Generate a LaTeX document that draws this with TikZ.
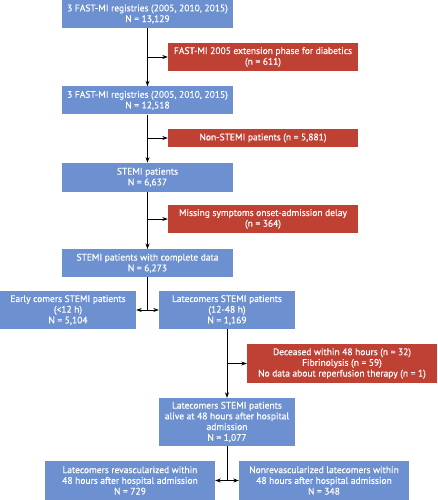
\documentclass[tikz,border=0pt]{standalone}
\usepackage{fontspec}
\setmainfont{PT Sans}
\newfontfamily\boxfont[FakeBold=0.5]{PT Sans}
\usepackage{tikz}
\usetikzlibrary{arrows.meta,positioning,calc}
\definecolor{boxblue}{RGB}{108,144,208}
\definecolor{boxred}{RGB}{190,65,52}

\begin{document}
\begin{tikzpicture}[
    x=1pt, y=-1pt,
    % --- STYLES ---
    stage/.style={
        rectangle, fill=boxblue,
        text=white, font=\boxfont\fontsize{9.5}{10.7}\selectfont,
        align=center, inner sep=2pt,
        minimum width=171pt, minimum height=28pt
    },
    excluded/.style={
        rectangle, fill=boxred,
        text=white, font=\boxfont\fontsize{9.5}{10.7}\selectfont,
        align=center, inner sep=2pt,
        minimum width=190pt, minimum height=28pt
    },
    flow/.style={-{Stealth[length=5.5pt,width=4pt]}, line width=0.7pt, black},
    plain/.style={line width=0.7pt, black}
]
\useasboundingbox (0,0) rectangle (438,500);

% ===== 1. MAIN COLUMN =====
\node[stage] (reg1) at (147.5,14) {3 FAST-MI registries (2005, 2010, 2015)\\ N = 13,129};
\node[stage, below=58pt of reg1] (reg2) {3 FAST-MI registries (2005, 2010, 2015)\\ N = 12,518};
\node[stage, below=48pt of reg2, minimum height=29pt] (stemi) {STEMI patients\\ N = 6,637};
\node[stage, below=57pt of stemi] (complete) {STEMI patients with complete data\\ N = 6,273};

% ===== 2. EXCLUSIONS =====
\node[excluded] (ex1) at (263,57) {FAST-MI 2005 extension phase for diabetics\\ (n = 611)};
\node[excluded, minimum height=18pt] (ex2) at (263,138) {Non-STEMI patients (n = 5,881)};
\node[excluded] (ex3) at (263,219) {Missing symptoms onset-admission delay\\ (n = 364)};

% ===== 3. SPLIT BY DELAY =====
\node[stage, minimum width=136pt, minimum height=38pt] (early) at (68,310) {Early comers STEMI patients\\ (<12 h)\\ N = 5,104};
\node[stage, minimum width=136pt, minimum height=38pt] (late) at (227,310) {Latecomers STEMI patients\\ (12-48 h)\\ N = 1,169};

\node[excluded, minimum height=39pt] (ex4) at (342,363.5) {Deceased within 48 hours (n = 32)\\ Fibrinolysis (n = 59)\\ No data about reperfusion therapy (n = 1)};

\node[stage, minimum width=136pt, minimum height=48pt] (alive) at (227,422) {Latecomers STEMI patients\\ alive at 48 hours after hospital\\ admission\\ N = 1,077};

% ===== 4. SPLIT BY REVASCULARIZATION =====
\node[stage, minimum width=170pt, minimum height=39pt] (revasc) at (130,480.5) {Latecomers revascularized within\\ 48 hours after hospital admission\\ N = 729};
\node[stage, minimum width=170pt, minimum height=39pt] (nonrevasc) at (324,480.5) {Nonrevascularized latecomers within\\ 48 hours after hospital admission\\ N = 348};

% ===== 5. CONNECTIONS =====
\draw[flow] (reg1) -- (reg2);
\draw[flow] (reg1.south |- ex1.west) -- (ex1.west);
\draw[flow] (reg2) -- (stemi);
\draw[flow] (reg2.south |- ex2.west) -- (ex2.west);
\draw[flow] (stemi) -- (complete);
\draw[flow] (stemi.south |- ex3.west) -- (ex3.west);

% split into early / late
\coordinate (split1) at (complete.south |- early.east);
\draw[plain] (complete.south) -- (split1);
\draw[flow] (split1) -- (early.east);
\draw[flow] (split1) -- (late.west);

\draw[flow] (late) -- (alive);
\draw[flow] (late.south |- ex4.west) -- (ex4.west);

% split into revascularized / not
\coordinate (split2) at (alive.south |- revasc.east);
\draw[plain] (alive.south) -- (split2);
\draw[flow] (split2) -- (revasc.east);
\draw[flow] (split2) -- (nonrevasc.west);

\end{tikzpicture}
\end{document}
